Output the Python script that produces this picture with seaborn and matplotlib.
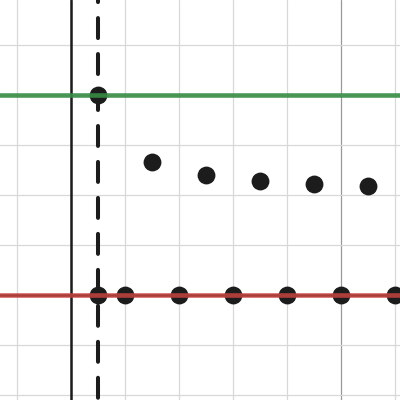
import matplotlib
matplotlib.use("Agg")
import matplotlib.pyplot as plt
import numpy as np
import pandas as pd
import seaborn as sns

# sequence points (upper row) and the points sitting on the lower line
seq_x = [0.5, 1.5, 2.5, 3.5, 4.5, 5.5]
seq_y = [2.0, 1.33, 1.2, 1.14, 1.11, 1.09]
base_x = [0.5, 1, 2, 3, 4, 5, 6]
base_y = [0, 0, 0, 0, 0, 0, 0]

green_level = 2.0
red_level = 0.0
dashed_x = 0.5

pts = pd.DataFrame({
    "x": seq_x + base_x,
    "y": seq_y + base_y,
})

sns.set_style("white")
plt.rcParams["lines.scale_dashes"] = False

fig = plt.figure(figsize=(4, 4), dpi=100)
ax = fig.add_axes([0, 0, 1, 1])

# grid like a graphing calculator: light minor lines, darker major
ax.set_xticks([0, 5])
ax.set_xticks(np.arange(-1, 7, 1), minor=True)
ax.set_yticks([0, 2])
ax.set_yticks(np.arange(-1, 3, 0.5), minor=True)
ax.grid(which="minor", color="#d8d8d8", linewidth=0.9, zorder=0)
ax.grid(which="major", axis="x", color="#999999", linewidth=0.9, zorder=0)
ax.grid(which="major", axis="y", color="#d8d8d8", linewidth=0.9, zorder=0)
ax.set_axisbelow(True)

# axes through the origin
ax.axvline(0, color="#1c1c1c", linewidth=1.8, zorder=1)
ax.axhline(0, color="#1c1c1c", linewidth=1.8, zorder=1)

ax.axvline(dashed_x, color="#1c1c1c", linewidth=2.9, solid_capstyle="round",
           dash_capstyle="round", linestyle=(24.3, (14.4, 11.5)), zorder=2)

sns.scatterplot(data=pts, x="x", y="y", color="#1c1c1c", s=165,
                linewidth=0, ax=ax, zorder=3)

ax.axhline(green_level, color="#388c46", linewidth=3.3, alpha=0.9, zorder=4)
ax.axhline(red_level, color="#c74440", linewidth=3.3, alpha=0.85, zorder=4)

ax.set_xlim(-71 / 54, 329 / 54)
ax.set_ylim(-1.05, 2.95)
ax.set_xlabel("")
ax.set_ylabel("")
ax.tick_params(which="both", length=0, labelbottom=False, labelleft=False)
for s in ax.spines.values():
    s.set_visible(False)

fig.savefig("out.png", dpi=100)
